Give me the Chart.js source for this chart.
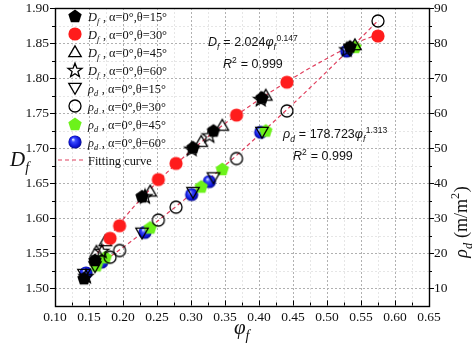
<!DOCTYPE html>
<html><head><meta charset="utf-8">
<script src="https://cdn.jsdelivr.net/npm/chart.js@4.4.0/dist/chart.umd.min.js"></script>
<style>html,body{margin:0;padding:0;background:#fff;}#wrap{width:474px;height:350px;}</style>
</head><body><div id="wrap"><canvas id="c" width="474" height="350"></canvas></div>
<script>
// ---- tick labels ----
const X_TICKS = [0.10,0.15,0.20,0.25,0.30,0.35,0.40,0.45,0.50,0.55,0.60,0.65];
const Y_TICKS = [1.50,1.55,1.60,1.65,1.70,1.75,1.80,1.85,1.90];
const Y2_TICKS = [10,20,30,40,50,60,70,80,90];

// ---- phi_f for each inclination ----
const phi15 = [0.1426,0.1588,0.228,0.303,0.333,0.4044,0.5338];
const phi30 = [0.181,0.195,0.252,0.278,0.367,0.441,0.575];
const phi45 = [0.161,0.174,0.240,0.315,0.346,0.410,0.541];
const phi60 = [0.1456,0.1687,0.2324,0.301,0.327,0.4025,0.529];

// ---- D_f values ----
const Df15 = [1.514,1.540,1.631,1.701,1.725,1.772,1.845];
const Df30 = [1.571,1.589,1.655,1.678,1.747,1.794,1.860];
const Df45 = [1.552,1.567,1.638,1.709,1.732,1.775,1.847];
const Df60 = [1.517,1.553,1.631,1.699,1.718,1.770,1.841];

// ---- rho_d values (m/m^2) ----
const rho15 = [14.0,16.2,25.8,37.4,41.6,54.6,78.2];
const rho30 = [18.8,20.7,29.4,33.1,47.0,60.6,86.3];
const rho45 = [16.5,18.8,27.3,39.0,44.0,55.0,78.9];
const rho60 = [14.3,17.4,25.9,36.7,40.4,54.5,77.7];

// ---- fitting curves ----
const fitPhi = [0.14,0.16,0.20,0.25,0.30,0.35,0.40,0.45,0.50,0.55,0.575];
const fitD   = [1.516,1.546,1.598,1.651,1.696,1.735,1.769,1.800,1.828,1.853,1.862];
const fitRho = [13.5,16.1,21.6,29.0,36.8,45.0,53.7,62.6,71.9,81.5,86.4];

const LEGEND_LABELS = [
  [{t:'D',it:1},{t:'f',it:1,sub:1},{t:' , α=0°,θ=15°'}],
  [{t:'D',it:1},{t:'f',it:1,sub:1},{t:' , α=0°,θ=30°'}],
  [{t:'D',it:1},{t:'f',it:1,sub:1},{t:' , α=0°,θ=45°'}],
  [{t:'D',it:1},{t:'f',it:1,sub:1},{t:' , α=0°,θ=60°'}],
  [{t:'ρ',it:1},{t:'d',it:1,sub:1},{t:' , α=0°,θ=15°'}],
  [{t:'ρ',it:1},{t:'d',it:1,sub:1},{t:' , α=0°,θ=30°'}],
  [{t:'ρ',it:1},{t:'d',it:1,sub:1},{t:' , α=0°,θ=45°'}],
  [{t:'ρ',it:1},{t:'d',it:1,sub:1},{t:' , α=0°,θ=60°'}],
  [{t:'Fitting curve'}]
];

// ---- marker images ----
function mk(draw){const c=document.createElement('canvas');c.width=18;c.height=18;const g=c.getContext('2d');draw(g,9,9);return c;}
function poly(g,cx,cy,r,n,start){g.beginPath();for(let k=0;k<n;k++){const a=(start+360*k/n)*Math.PI/180;const px=cx+r*Math.cos(a),py=cy+r*Math.sin(a);k?g.lineTo(px,py):g.moveTo(px,py);}g.closePath();}
const OL = 1.3;
const mPentBlack = mk((g,x,y)=>{poly(g,x,y+0.5,7,5,-90);g.fillStyle='#000';g.fill();});
const mRed = mk((g,x,y)=>{g.beginPath();g.arc(x,y,6.6,0,Math.PI*2);g.fillStyle='#ff1c1c';g.fill();});
const mTriUp = mk((g,x,y)=>{poly(g,x,y+1,7.2,3,-90);g.strokeStyle='#000';g.lineWidth=OL;g.stroke();});
const mStar = mk((g,x,y)=>{g.beginPath();for(let k=0;k<10;k++){const r=k%2?3.1:7.4;const a=(-90+36*k)*Math.PI/180;const px=x+r*Math.cos(a),py=y+0.6+r*Math.sin(a);k?g.lineTo(px,py):g.moveTo(px,py);}g.closePath();g.strokeStyle='#000';g.lineWidth=OL;g.stroke();});
const mTriDown = mk((g,x,y)=>{poly(g,x,y-1,7.2,3,90);g.strokeStyle='#000';g.lineWidth=OL;g.stroke();});
const mOpen = mk((g,x,y)=>{g.beginPath();g.arc(x,y,6,0,Math.PI*2);g.strokeStyle='#000';g.lineWidth=OL;g.stroke();});
const mGreen = mk((g,x,y)=>{poly(g,x,y+0.5,7,5,-90);g.fillStyle='#6cf21a';g.fill();});
const mBlue = mk((g,x,y)=>{const gr=g.createRadialGradient(x-2,y-2.5,0.5,x,y,6.8);gr.addColorStop(0,'#cfd6ff');gr.addColorStop(0.25,'#3a4cff');gr.addColorStop(0.75,'#0d14d8');gr.addColorStop(1,'#050a80');g.beginPath();g.arc(x,y,6.6,0,Math.PI*2);g.fillStyle=gr;g.fill();});
const MARKERS = [mPentBlack,mRed,mTriUp,mStar,mTriDown,mOpen,mGreen,mBlue];

const FIT_COLOR = '#e0405e';
const pts = (xs,ys)=>xs.map((v,i)=>({x:v,y:ys[i]}));
function ds(xs,ys,axis,img){return {data:pts(xs,ys),yAxisID:axis,pointStyle:img,pointRadius:7,showLine:false};}

const datasets = [
  ds(phi15,Df15,'y',mPentBlack),
  ds(phi30,Df30,'y',mRed),
  ds(phi45,Df45,'y',mTriUp),
  ds(phi60,Df60,'y',mStar),
  ds(phi15,rho15,'y2',mTriDown),
  ds(phi30,rho30,'y2',mOpen),
  ds(phi45,rho45,'y2',mGreen),
  ds(phi60,rho60,'y2',mBlue),
  {data:pts(fitPhi,fitD),yAxisID:'y',showLine:true,pointRadius:0,borderColor:FIT_COLOR,borderWidth:1.2,borderDash:[4,3],cubicInterpolationMode:'monotone'},
  {data:pts(fitPhi,fitRho),yAxisID:'y2',showLine:true,pointRadius:0,borderColor:FIT_COLOR,borderWidth:1.2,borderDash:[4,3],cubicInterpolationMode:'monotone'}
];

const SERIF = '"Liberation Serif","Times New Roman",serif';
const SANS = '"Liberation Sans",Arial,sans-serif';

function rich(ctx,x,y,segs,size,fam,align){
  const fsz = s=>(s.sub||s.sup)?size*0.68:size;
  const meas = s=>{ctx.font=(s.it?'italic ':'')+fsz(s)+'px '+fam;return ctx.measureText(s.t).width+(s.sub||s.sup?0.5:0);};
  let w=0;segs.forEach(s=>w+=meas(s));
  let cx = align==='center'?x-w/2:x;
  segs.forEach(s=>{ctx.font=(s.it?'italic ':'')+fsz(s)+'px '+fam;let yy=y;if(s.sub)yy+=size*0.28;if(s.sup)yy-=size*0.42;ctx.fillText(s.t,cx,yy);cx+=ctx.measureText(s.t).width+(s.sub||s.sup?0.5:0);});
  return w;
}

const deco = {
  id:'deco',
  beforeDatasetsDraw(chart){
    const {ctx,chartArea:a,scales:{x,y}}=chart;
    ctx.save();
    ctx.lineWidth=1;ctx.setLineDash([2,2]);
    ctx.strokeStyle='#e6e6e6';
    for(let i=0;i<X_TICKS.length-1;i++){const px=Math.round(x.getPixelForValue((X_TICKS[i]+X_TICKS[i+1])/2))+0.5;ctx.beginPath();ctx.moveTo(px,a.top);ctx.lineTo(px,a.bottom);ctx.stroke();}
    for(let i=0;i<Y_TICKS.length-1;i++){const py=Math.round(y.getPixelForValue((Y_TICKS[i]+Y_TICKS[i+1])/2))+0.5;ctx.beginPath();ctx.moveTo(a.left,py);ctx.lineTo(a.right,py);ctx.stroke();}
    {const py=Math.round(y.getPixelForValue(Y_TICKS[0]-0.025))+0.5;if(py<a.bottom-2){ctx.beginPath();ctx.moveTo(a.left,py);ctx.lineTo(a.right,py);ctx.stroke();}}
    ctx.strokeStyle='#b0b0b0';
    X_TICKS.forEach(v=>{const px=Math.round(x.getPixelForValue(v))+0.5;if(px<a.left+2||px>a.right-2)return;ctx.beginPath();ctx.moveTo(px,a.top);ctx.lineTo(px,a.bottom);ctx.stroke();});
    Y_TICKS.forEach(v=>{const py=Math.round(y.getPixelForValue(v))+0.5;if(py<a.top+2||py>a.bottom-2)return;ctx.beginPath();ctx.moveTo(a.left,py);ctx.lineTo(a.right,py);ctx.stroke();});
    ctx.restore();
  },
  afterDatasetsDraw(chart){
    const {ctx,chartArea:a,scales:{x,y,y2}}=chart;
    ctx.save();
    ctx.setLineDash([]);ctx.strokeStyle='#000';ctx.lineWidth=1;
    X_TICKS.forEach((v,i)=>{const px=Math.round(x.getPixelForValue(v))+0.5;ctx.beginPath();ctx.moveTo(px,a.bottom);ctx.lineTo(px,a.bottom-5);ctx.stroke();
      if(i<X_TICKS.length-1){const pm=Math.round(x.getPixelForValue((v+X_TICKS[i+1])/2))+0.5;ctx.beginPath();ctx.moveTo(pm,a.bottom);ctx.lineTo(pm,a.bottom-3);ctx.stroke();}});
    Y_TICKS.forEach((v,i)=>{const py=Math.round(y.getPixelForValue(v))+0.5;ctx.beginPath();ctx.moveTo(a.left,py);ctx.lineTo(a.left-5,py);ctx.stroke();
      const nx = i<Y_TICKS.length-1?Y_TICKS[i+1]:null;
      if(nx!==null){const pm=Math.round(y.getPixelForValue((v+nx)/2))+0.5;ctx.beginPath();ctx.moveTo(a.left,pm);ctx.lineTo(a.left-3,pm);ctx.stroke();}});
    Y2_TICKS.forEach((v,i)=>{const py=Math.round(y2.getPixelForValue(v))+0.5;ctx.beginPath();ctx.moveTo(a.right,py);ctx.lineTo(a.right+5,py);ctx.stroke();
      const nx = i<Y2_TICKS.length-1?Y2_TICKS[i+1]:null;
      if(nx!==null){const pm=Math.round(y2.getPixelForValue((v+nx)/2))+0.5;ctx.beginPath();ctx.moveTo(a.right,pm);ctx.lineTo(a.right+3,pm);ctx.stroke();}});
    ctx.lineWidth=1.4;
    ctx.strokeRect(Math.round(a.left)+0.5,Math.round(a.top)+0.5,Math.round(a.right)-Math.round(a.left),Math.round(a.bottom)-Math.round(a.top));
    ctx.restore();
  },
  afterDraw(chart){
    const {ctx,chartArea:a}=chart;
    ctx.save();
    ctx.fillStyle='#111';ctx.textBaseline='alphabetic';ctx.textAlign='left';
    const lx=75, ly0=16, step=18;
    LEGEND_LABELS.forEach((segs,i)=>{
      const cy=ly0+i*step;
      if(i<8){ctx.drawImage(MARKERS[i],lx-9,cy-9);}
      else {ctx.save();ctx.strokeStyle=FIT_COLOR;ctx.lineWidth=1.2;ctx.setLineDash([4,3]);ctx.beginPath();ctx.moveTo(58,cy);ctx.lineTo(86,cy);ctx.stroke();ctx.restore();}
      rich(ctx,88,cy+4.5,segs,12.4,SERIF);
    });
    rich(ctx,208,46,[{t:'D',it:1},{t:'f',it:1,sub:1},{t:' = 2.024'},{t:'φ',it:1},{t:'f',it:1,sub:1},{t:'0.147',sup:1}],12.5,SANS);
    rich(ctx,223,68,[{t:'R',it:1},{t:'2',sup:1},{t:' = 0.999'}],12.5,SANS);
    rich(ctx,283,138,[{t:'ρ',it:1},{t:'d',it:1,sub:1},{t:' = 178.723'},{t:'φ',it:1},{t:'f',it:1,sub:1},{t:'1.313',sup:1}],12.5,SANS);
    rich(ctx,293,160,[{t:'R',it:1},{t:'2',sup:1},{t:' = 0.999'}],12.5,SANS);
    rich(ctx,10,166,[{t:'D',it:1},{t:'f',it:1,sub:1}],21,SERIF);
    rich(ctx,(a.left+a.right)/2,334,[{t:'φ',it:1},{t:'f',it:1,sub:1}],21,SERIF,'center');
    ctx.translate(467,222);ctx.rotate(-Math.PI/2);
    rich(ctx,0,0,[{t:'ρ',it:1},{t:'d',it:1,sub:1},{t:' (m/m'},{t:'2',sup:1},{t:')'}],18,SERIF,'center');
    ctx.restore();
  }
};

const tickFont = {family:SERIF,size:13.5};
const vTickFont = {family:SERIF,size:13.5,lineHeight:0.3};
new Chart(document.getElementById('c'),{
  type:'scatter',
  data:{datasets},
  options:{
    responsive:false,animation:false,devicePixelRatio:1,
    layout:{padding:{top:4,left:0,right:0,bottom:0}},
    plugins:{legend:{display:false},tooltip:{enabled:false}},
    scales:{
      x:{type:'linear',min:0.10,max:0.65,
        afterBuildTicks:s=>{s.ticks=X_TICKS.map(v=>({value:v}));},
        afterFit:s=>{s.height=44.5;},
        grid:{display:false,drawTicks:false},border:{display:false},
        ticks:{padding:4,font:tickFont,color:'#111',maxRotation:0,autoSkip:false,callback:v=>Number(v).toFixed(2)}},
      y:{type:'linear',position:'left',min:1.475,max:1.90,
        afterBuildTicks:s=>{s.ticks=Y_TICKS.map(v=>({value:v}));},
        afterFit:s=>{s.width=55;},
        grid:{display:false,drawTicks:false},border:{display:false},
        ticks:{padding:6,font:vTickFont,color:'#111',autoSkip:false,callback:v=>Number(v).toFixed(2)}},
      y2:{type:'linear',position:'right',min:5,max:90,
        afterBuildTicks:s=>{s.ticks=Y2_TICKS.map(v=>({value:v}));},
        afterFit:s=>{s.width=45;},
        grid:{display:false,drawTicks:false},border:{display:false},
        ticks:{padding:5,font:vTickFont,color:'#111',autoSkip:false,callback:v=>String(Math.round(v))}}
    }
  },
  plugins:[deco]
});
</script></body></html>
